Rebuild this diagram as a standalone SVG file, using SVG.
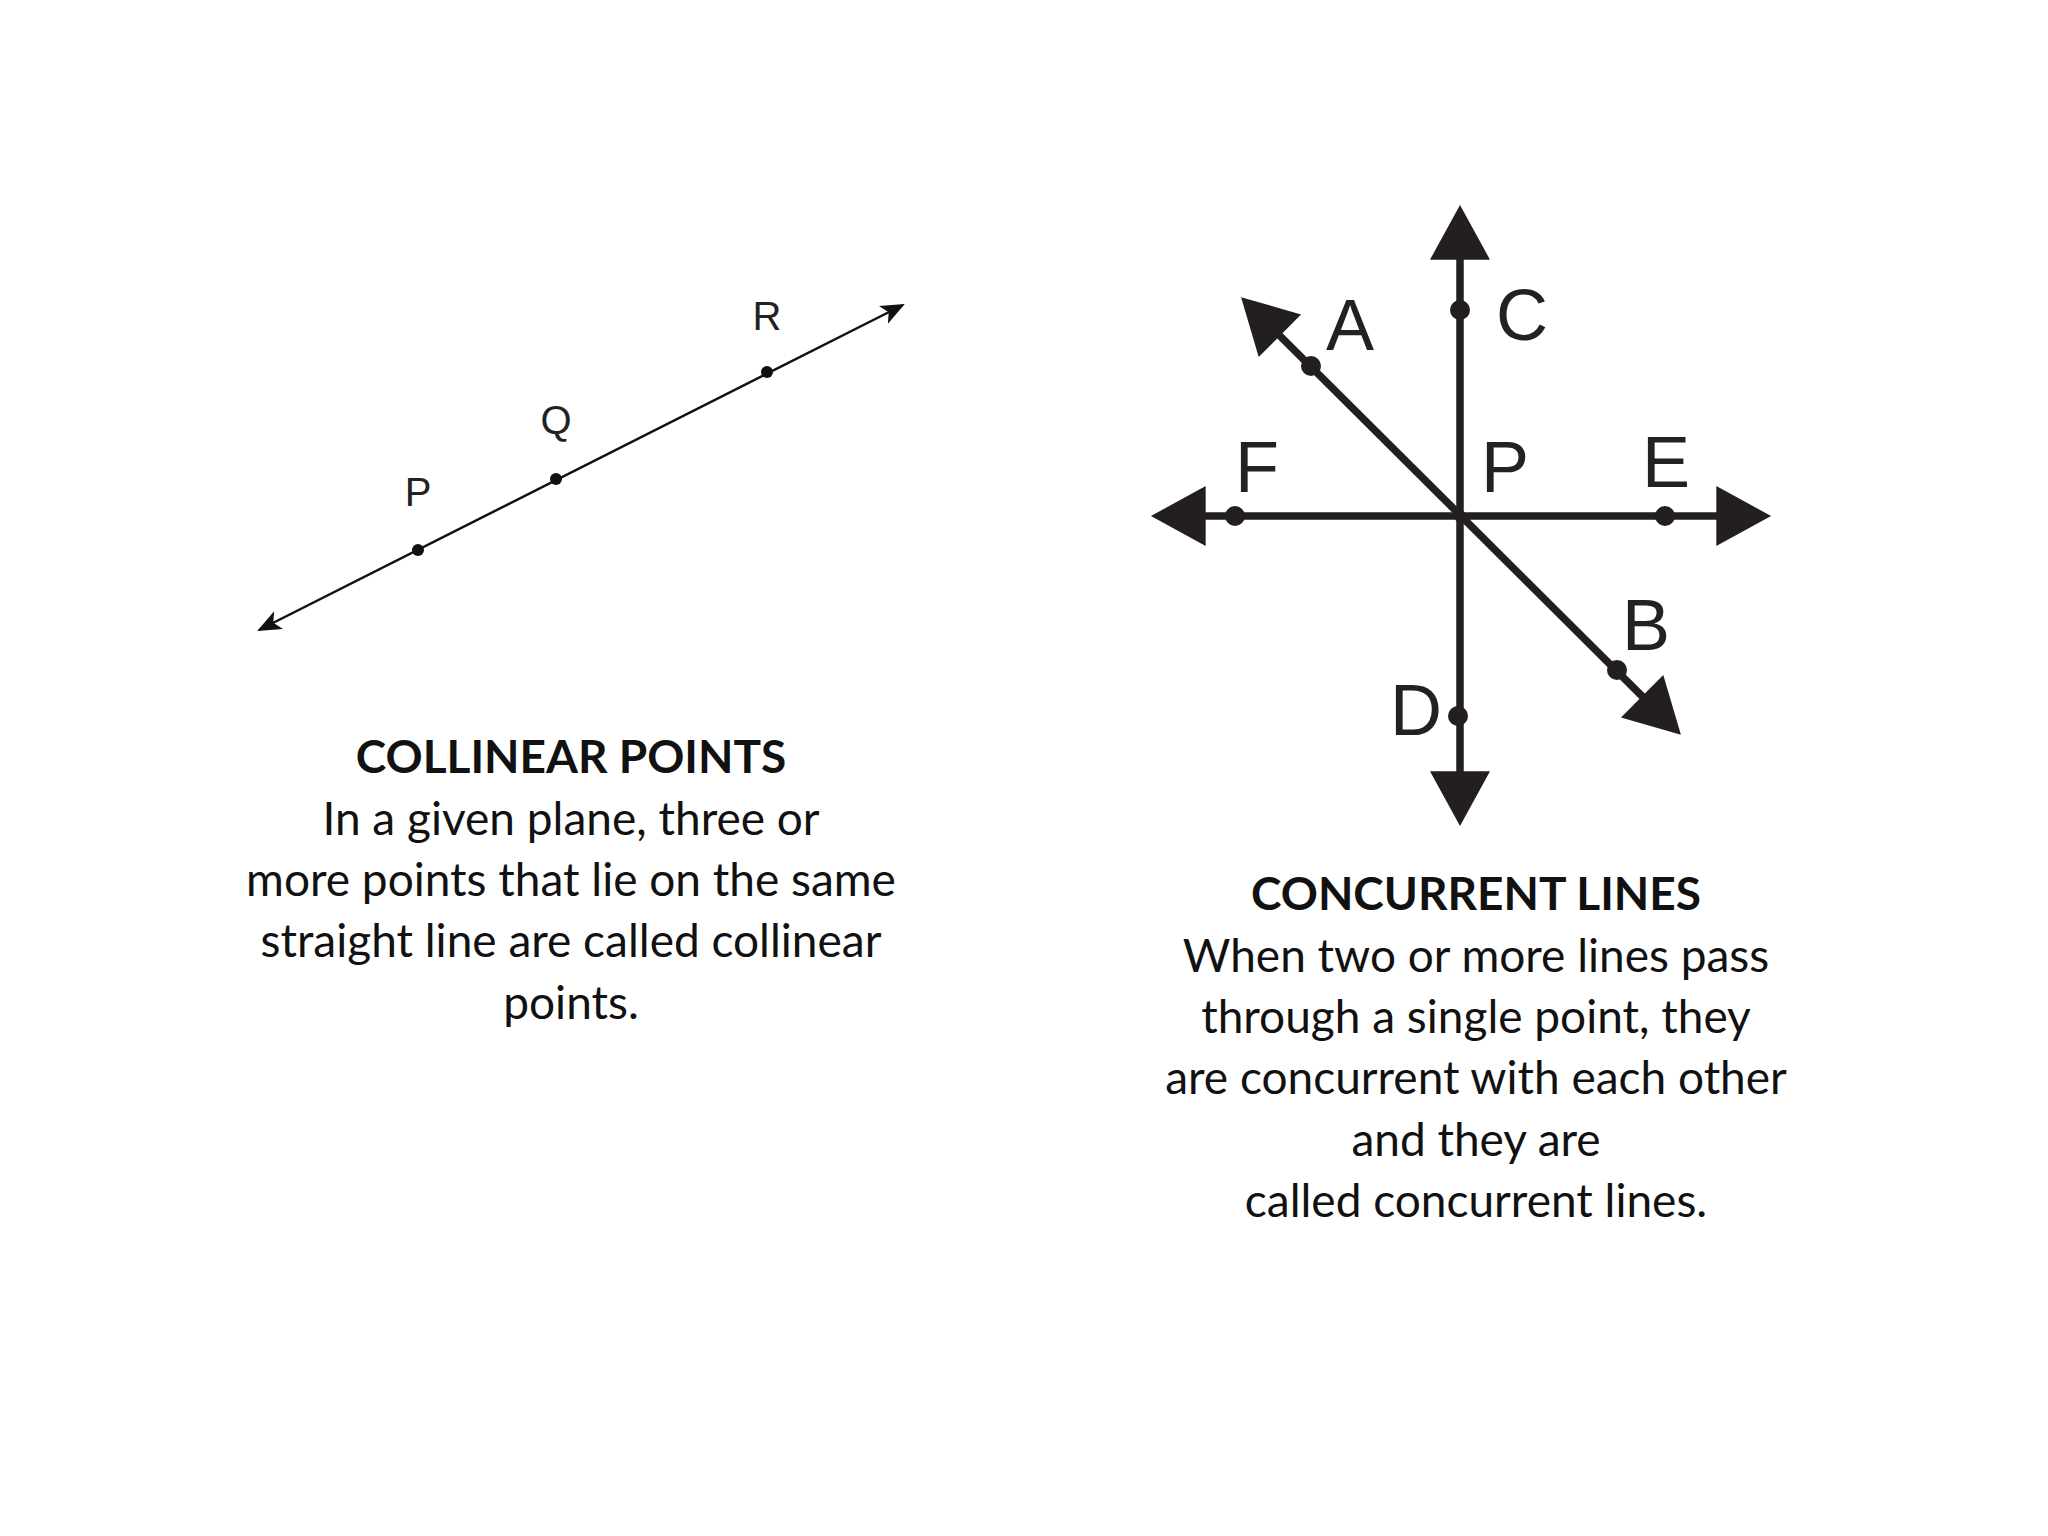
<svg xmlns="http://www.w3.org/2000/svg" width="2048" height="1536" viewBox="0 0 2048 1536">
<style>
.t{font-family:Lato,"Open Sans",sans-serif;font-size:46px;fill:#111;text-anchor:middle}
.b{font-weight:bold}
.lbl{font-family:"Liberation Sans",Arial,sans-serif;font-size:72px;fill:#222;text-anchor:middle}
.sl{font-family:"Liberation Sans",Arial,sans-serif;font-size:40px;fill:#222;text-anchor:middle}
.thick{stroke:#231f20;stroke-width:7.5;fill:none}
.thin{stroke:#111;stroke-width:2.5;fill:none}
</style>
<defs>
<marker id="big" markerUnits="userSpaceOnUse" markerWidth="60" markerHeight="60" viewBox="0 0 52 57" refX="32" refY="28.5" orient="auto-start-reverse"><path d="M0,0 L52,28.5 L0,57 Z" fill="#231f20"/></marker>
<marker id="sm" markerUnits="userSpaceOnUse" markerWidth="24" markerHeight="20" viewBox="0 0 24 20" refX="22" refY="10" orient="auto-start-reverse"><path d="M0,0 L24,10 L0,20 L6,10 Z" fill="#111"/></marker>
</defs>
<rect width="2048" height="1536" fill="#fff"/>
<g id="connectors">
<line class="thin" x1="259" y1="630" x2="903" y2="305" marker-start="url(#sm)" marker-end="url(#sm)"/>
<line class="thick" x1="1172" y1="516" x2="1750" y2="516" marker-start="url(#big)" marker-end="url(#big)"/>
<line class="thick" x1="1460" y1="226" x2="1460" y2="805" marker-start="url(#big)" marker-end="url(#big)"/>
<line class="thick" x1="1256" y1="312" x2="1666" y2="720" marker-start="url(#big)" marker-end="url(#big)"/>
</g>
<g id="collinear">
<circle cx="418" cy="550" r="6" fill="#111"/><circle cx="556" cy="479" r="6" fill="#111"/><circle cx="767" cy="372" r="6" fill="#111"/>
<text class="sl" x="418" y="506">P</text><text class="sl" x="556" y="434">Q</text><text class="sl" x="767" y="330">R</text>
</g>
<g id="concurrent">
<circle cx="1460" cy="310" r="10" fill="#231f20"/><circle cx="1311" cy="366" r="10" fill="#231f20"/>
<circle cx="1235" cy="516" r="10" fill="#231f20"/><circle cx="1665" cy="516" r="10" fill="#231f20"/>
<circle cx="1617" cy="670" r="10" fill="#231f20"/><circle cx="1458" cy="716" r="10" fill="#231f20"/>
<circle cx="1460" cy="516" r="6" fill="#231f20"/>
<text class="lbl" x="1350" y="350">A</text><text class="lbl" x="1522" y="340">C</text>
<text class="lbl" x="1257" y="492">F</text><text class="lbl" x="1505" y="492">P</text>
<text class="lbl" x="1666" y="487">E</text><text class="lbl" x="1646" y="650">B</text>
<text class="lbl" x="1416" y="735">D</text>
</g>
<g id="text-collinear">
<text class="t b" x="571" y="773">COLLINEAR POINTS</text>
<text class="t" x="571" y="835">In a given plane, three or</text>
<text class="t" x="571" y="896">more points that lie on the same</text>
<text class="t" x="571" y="957">straight line are called collinear</text>
<text class="t" x="571" y="1019">points.</text>
</g>
<g id="text-concurrent">
<text class="t b" x="1476" y="910">CONCURRENT LINES</text>
<text class="t" x="1476" y="972">When two or more lines pass</text>
<text class="t" x="1476" y="1033">through a single point, they</text>
<text class="t" x="1476" y="1094">are concurrent with each other</text>
<text class="t" x="1476" y="1156">and they are</text>
<text class="t" x="1476" y="1217">called concurrent lines.</text>
</g>
</svg>
